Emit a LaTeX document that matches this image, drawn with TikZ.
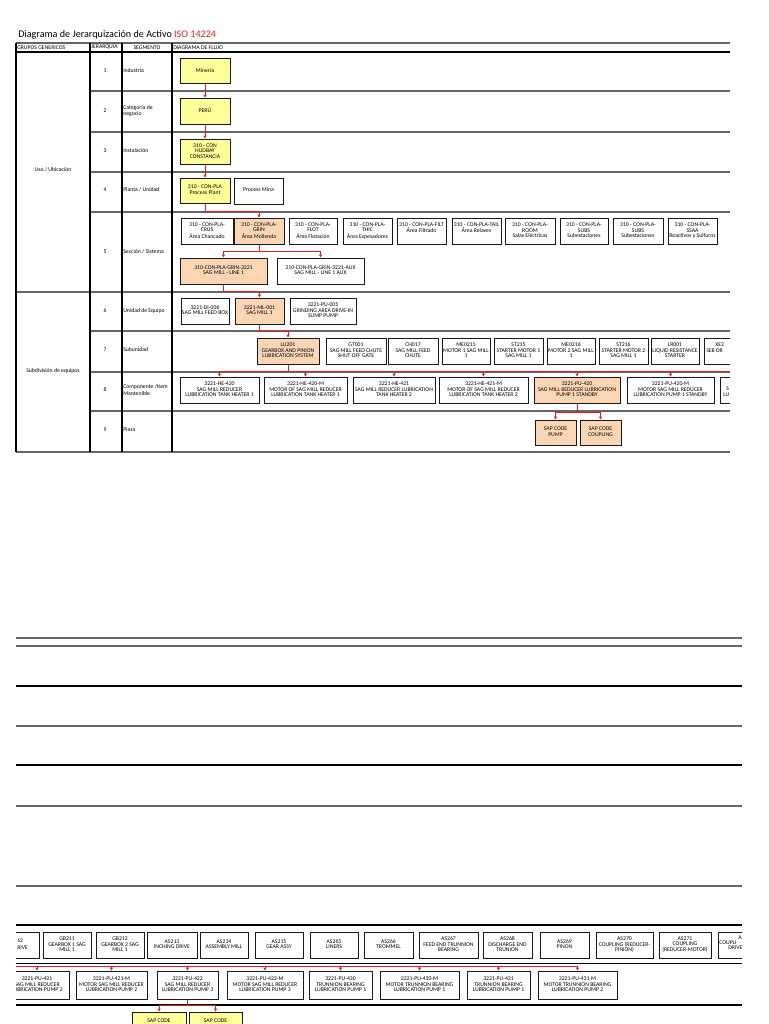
\documentclass[tikz,border=0pt]{standalone}
\usepackage{fontspec}
\setmainfont{Carlito}
\usetikzlibrary{arrows.meta}
\definecolor{yelA}{HTML}{FFFF99}
\definecolor{orgA}{HTML}{FCD5B4}
\definecolor{redA}{HTML}{E0201E}
\newcommand{\bxraise}{1.2pt}
\newcommand{\bx}[7]{\node[box,#6,minimum width={(#4-#2)*0.75pt},minimum height={(#5-#3)*0.75pt}] (#1) at ({(#2+#4)/2},{(#3+#5)/2}) {\raisebox{\bxraise}{\begin{tabular}{@{}c@{}}#7\end{tabular}}};}
\begin{document}
\begin{tikzpicture}[x=0.75pt,y=-0.75pt,
 box/.style={draw=black!90, line width=0.75pt, fill=white, inner sep=0pt, font=\fontsize{4.3}{4.1}\selectfont},
 yel/.style={fill=yelA}, org/.style={fill=orgA},
 rline/.style={draw=redA, line width=0.75pt},
 conn/.style={rline, -{Stealth[length=2.4pt,width=2.4pt]}},
 gline/.style={draw=black!60, line width=1.3pt},
 kline/.style={draw=black, line width=0.8pt},
 lbl/.style={inner sep=0pt, anchor=west, align=left, font=\fontsize{4.3}{4.8}\selectfont},
 ctr/.style={inner sep=0pt, align=center, font=\fontsize{4.3}{4.8}\selectfont},
 frag/.style={inner sep=0pt, anchor=west, font=\fontsize{4.3}{4.1}\selectfont}]
\useasboundingbox (0,0) rectangle (768,1024);

% ---------- title ----------
\node[anchor=west, inner sep=0pt, font=\fontsize{7.6}{8.5}\selectfont] (title) at (18,35) {Diagrama de Jerarquización de Activo \textcolor{redA}{ISO 14224}};

% ---------- top table grid ----------
\draw[gline] (16,43) -- (730,43);
\draw[kline] (16,52) -- (730,52);
\foreach \yy in {91,132,172,212,331,372,411} \draw[gline] (90,\yy) -- (730,\yy);
\draw[gline] (16,292) -- (730,292);
\draw[gline] (16,452) -- (730,452);
\foreach \xx in {16,90,122,172} \draw[kline] (\xx,43) -- (\xx,452);

% header
\node[lbl] (h1) at (17,47.5) {GRUPOS GENERICOS};
\node[lbl] (h2) at (91,47.5) {JERARQUIA};
\node[ctr] (h3) at (147,47.5) {SEGMENTO};
\node[lbl] (h4) at (173,47.5) {DIAGRAMA DE FLUJO};

% group labels
\node[ctr] (g1) at (53,170) {Uso / Ubicación};
\node[ctr] (g2) at (53,371) {Subdivisión de equipos};

% numbers and segments
\node[ctr] (n1) at (105,71) {1};   \node[lbl] (s1) at (123,71) {Industria};
\node[ctr] (n2) at (105,111) {2};  \node[lbl] (s2) at (123,111) {Categoría de\\negocio};
\node[ctr] (n3) at (105,151) {3};  \node[lbl] (s3) at (123,151) {Instalación};
\node[ctr] (n4) at (105,190) {4};  \node[lbl] (s4) at (123,190) {Planta / Unidad};
\node[ctr] (n5) at (105,252) {5};  \node[lbl] (s5) at (123,252) {Sección / Sistema};
\node[ctr] (n6) at (105,311) {6};  \node[lbl] (s6) at (123,311) {Unidad de Equipo};
\node[ctr] (n7) at (105,350) {7};  \node[lbl] (s7) at (123,350) {Subunidad};
\node[ctr] (n8) at (105,390) {8};  \node[lbl] (s8) at (123,390) {Componente /Item\\Mantenible};
\node[ctr] (n9) at (105,430) {9};  \node[lbl] (s9) at (123,430) {Pieza};

\begin{scope}
\clip (0,0) rectangle (730,460);
% rows 1-4
\bx{min}{180}{59}{230}{84}{yel}{Minería}
\bx{peru}{180}{98}{230}{124}{yel}{PERÚ}
\bx{hud}{180}{139}{230}{164}{yel}{310 - CON\\HUDBAY\\CONSTANCIA}
\bx{pp}{180}{178}{230}{203}{yel}{310 - CON-PLA\\Process Plant}
\bx{pm}{234}{178}{283}{204}{}{Process Mina}
% row 5
\bx{crus}{181}{218}{233}{244}{}{310 - CON-PLA-\\CRUS\\Área Chancado}
\bx{grin}{234}{218}{284}{244}{org}{310 - CON-PLA-\\GRIN\\Área Molienda}
\bx{flot}{289}{218}{337}{244}{}{310 - CON-PLA-\\FLOT\\Área Flotación}
\bx{thic}{343}{218}{392}{244}{}{310 - CON-PLA-\\THIC\\Área Espesadores}
\bx{filt}{397}{218}{446}{244}{}{310 - CON-PLA-FILT\\Área Filtrado\\\mbox{}}
\bx{tail}{452}{218}{501}{244}{}{310 - CON-PLA-TAIL\\Área Relaves\\\mbox{}}
\bx{room}{505}{218}{555}{244}{}{310 - CON-PLA-\\ROOM\\Salas Eléctricas}
\bx{subsa}{560}{218}{608}{244}{}{310 - CON-PLA-\\SUBS\\Subestaciones}
\bx{subsb}{613}{218}{663}{244}{}{310 - CON-PLA-\\SUBS\\Subestaciones}
\bx{ssaa}{668}{218}{717}{244}{}{310 - CON-PLA-\\SSAA\\Reactivos y Sulfuros}
\bx{lone}{180}{258}{267}{284}{org}{310-CON-PLA-GRIN-3221\\SAG MILL - LINE 1}
\bx{laux}{277}{258}{364}{284}{}{310-CON-PLA-GRIN-3221-AUX\\SAG MILL - LINE 1 AUX}
% row 6
\bx{di}{181}{298}{229}{324}{}{3221-DI-006\\SAG MILL FEED BOX}
\bx{ml}{235}{298}{284}{324}{org}{3221-ML-001\\SAG MILL 1}
\bx{pufive}{290}{298}{356}{324}{}{3221-PU-005\\GRINDING AREA DRIVE-IN\\SUMP PUMP}
% row 7
\bx{lu}{257}{338}{319}{364}{org}{LU201\\GEARBOX AND PINION\\LUBRICATION SYSTEM}
\bx{gt}{326}{338}{386}{364}{}{GT001\\SAG MILL FEED CHUTE\\SHUT OFF GATE}
\bx{ch}{388}{338}{438}{364}{}{CH017\\SAG MILL FEED\\CHUTE}
\bx{mea}{442}{338}{490}{364}{}{ME0215\\MOTOR 1 SAG MILL\\1}
\bx{sta}{494}{338}{543}{364}{}{ST215\\STARTER MOTOR 1\\SAG MILL 1}
\bx{meb}{547}{338}{595}{364}{}{ME0216\\MOTOR 2 SAG MILL\\1}
\bx{stb}{599}{338}{648}{364}{}{ST216\\STARTER MOTOR 2\\SAG MILL 1}
\bx{lr}{651}{338}{699}{364}{}{LR001\\LIQUID RESISTANCE\\STARTER}
\bx{xe}{704}{338}{760}{364}{}{}
\node[frag] (xet) at (715,345) {XE2};
\node[frag] (xeu) at (706,351) {SEB DR};
% row 8
\bx{hea}{180}{377}{259}{403}{}{3221-HE-420\\SAG MILL REDUCER\\LUBRICATION TANK HEATER 1}
\bx{heam}{264}{377}{347}{403}{}{3221-HE-420-M\\MOTOR OF SAG MILL REDUCER\\LUBRICATION TANK HEATER 1}
\bx{heb}{353}{377}{435}{403}{}{3221-HE-421\\SAG MILL REDUCER LUBRICATION\\TANK HEATER 2}
\bx{hebm}{439}{377}{528}{403}{}{3221-HE-421-M\\MOTOR OF SAG MILL REDUCER\\LUBRICATION TANK HEATER 2}
\bx{pua}{534}{377}{620}{403}{org}{3221-PU-420\\SAG MILL REDUCER LUBRICATION\\PUMP 1 STANDBY}
\bx{puam}{627}{377}{714}{403}{}{3221-PU-420-M\\MOTOR SAG MILL REDUCER\\LUBRICATION PUMP 1 STANDBY}
\bx{sx}{720}{377}{805}{403}{}{}
\node[frag] (sxt) at (726,389) {S};
\node[frag] (sxu) at (723,395) {LU};
% row 9
\bx{spa}{535}{420}{576}{445}{org}{SAP CODE\\PUMP}
\bx{spb}{580}{420}{621}{445}{org}{SAP CODE\\COUPLING}

% connectors
\draw[conn] (min) -- (peru);
\draw[conn] (peru) -- (hud);
\draw[conn] (hud) -- (pp);
\coordinate (jfour) at (205,211.5);
\draw[rline] (pp.south) -- (jfour);
\draw[conn] (jfour) -| (grin);
\coordinate (jfive) at (259,251);
\draw[rline] (grin.south) -- (jfive);
\draw[conn] (jfive) -| (lone);
\draw[conn] (jfive) -| (laux);
\coordinate (jfiveb) at (223.5,291);
\draw[rline] (lone.south) -- (jfiveb);
\draw[conn] (jfiveb) -| (ml);
\coordinate (jsix) at (259.5,331);
\draw[rline] (ml.south) -- (jsix);
\draw[conn] (jsix) -| (lu);
\coordinate (jseven) at (288,371);
\draw[rline] (lu.south) -- (jseven);
\foreach \c in {hea,heam,heb,hebm,pua,puam,sx} \draw[conn] (jseven) -| (\c);
\coordinate (jeight) at (577,412);
\draw[rline] (pua.south) -- (jeight);
\draw[conn] (jeight) -| (spa);
\draw[conn] (jeight) -| (spb);
\end{scope}

% ---------- middle empty rows ----------
\draw[gline] (16,638) -- (742,638);
\draw[gline] (16,646) -- (742,646);
\draw[kline] (16,686) -- (742,686);
\draw[gline] (16,726) -- (742,726);
\draw[kline] (16,765) -- (742,765);
\draw[gline] (16,806) -- (742,806);
\draw[gline] (16,886) -- (742,886);

% ---------- bottom section ----------
\draw[kline] (16,925) -- (742,925);
\draw[kline] (16,963.5) -- (742,963.5);
\draw[kline] (16,1005) -- (742,1005);

\begin{scope}
\clip (16,900) rectangle (742,1024);
\bx{xb}{-10}{932}{39}{958}{}{}
\node[frag] (xbt) at (17,941) {12};
\node[frag] (xbu) at (17,948) {RIVE};
\bx{gba}{43}{932}{91}{958}{}{GB211\\GEARBOX 1 SAG\\MILL 1}
\bx{gbb}{96}{932}{144}{958}{}{GB212\\GEARBOX 2 SAG\\MILL 1}
\bx{asa}{147}{932}{197}{958}{}{AS213\\INCHING DRIVE}
\bx{asb}{200}{932}{248}{958}{}{AS214\\ASSEMBLY MILL}
\bx{asc}{255}{932}{303}{958}{}{AS215\\GEAR ASSY}
\bx{asd}{310}{932}{358}{958}{}{AS265\\LINERS}
\bx{ase}{364}{932}{413}{958}{}{AS266\\TROMMEL}
\bx{asf}{419}{932}{478}{958}{}{AS267\\FEED END TRUNNION\\BEARING}
\bx{asg}{483}{932}{532}{958}{}{AS268\\DISCHARGE END\\TRUNION}
\bx{ash}{540}{932}{589}{958}{}{AS269\\PINON}
\bx{asi}{596}{932}{653}{958}{}{AS270\\COUPLING (REDUCER-\\PINION)}
\bx{asj}{659}{932}{711}{958}{}{AS271\\COUPLING\\(REDUCER-MOTOR)}
\bx{ask}{718}{932}{780}{958}{}{}
\node[frag] (askt) at (738,937.5) {A};
\node[frag] (asku) at (719,942.5) {COUPLI};
\node[frag] (askv) at (728,947.5) {DRIVE};

\bx{pb}{5}{971}{69}{999}{}{3221-PU-421\\SAG MILL REDUCER\\LUBRICATION PUMP 2}
\bx{pbm}{76}{971}{147}{999}{}{3221-PU-421-M\\MOTOR SAG MILL REDUCER\\LUBRICATION PUMP 2}
\bx{pc}{157}{971}{218}{999}{}{3221-PU-422\\SAG MILL REDUCER\\LUBRICATION PUMP 3}
\bx{pcm}{227}{971}{303}{999}{}{3221-PU-422-M\\MOTOR SAG MILL REDUCER\\LUBRICATION PUMP 3}
\bx{pd}{309}{971}{372}{999}{}{3221-PU-430\\TRUNNION BEARING\\LUBRICATION PUMP 1}
\bx{pdm}{380}{971}{459}{999}{}{3221-PU-430-M\\MOTOR TRUNNION BEARING\\LUBRICATION PUMP 1}
\bx{pe}{467}{971}{530}{999}{}{3221-PU-431\\TRUNNION BEARING\\LUBRICATION PUMP 1}
\bx{pem}{538}{971}{617}{999}{}{3221-PU-431-M\\MOTOR TRUNNION BEARING\\LUBRICATION PUMP 2}

\bx{sapa}{132}{1012}{186}{1032}{yel}{SAP CODE}
\bx{sapb}{189}{1012}{242}{1032}{yel}{SAP CODE}

\coordinate (jbus) at (0,966);
\foreach \c in {pb,pbm,pc,pcm,pd,pdm,pe,pem} \draw[conn] (jbus) -| (\c);
\coordinate (jnine) at (187.5,1005.5);
\draw[rline] (pc.south) -- (jnine);
\draw[conn] (jnine) -| (sapa);
\draw[conn] (jnine) -| (sapb);
\end{scope}
\end{tikzpicture}
\end{document}
